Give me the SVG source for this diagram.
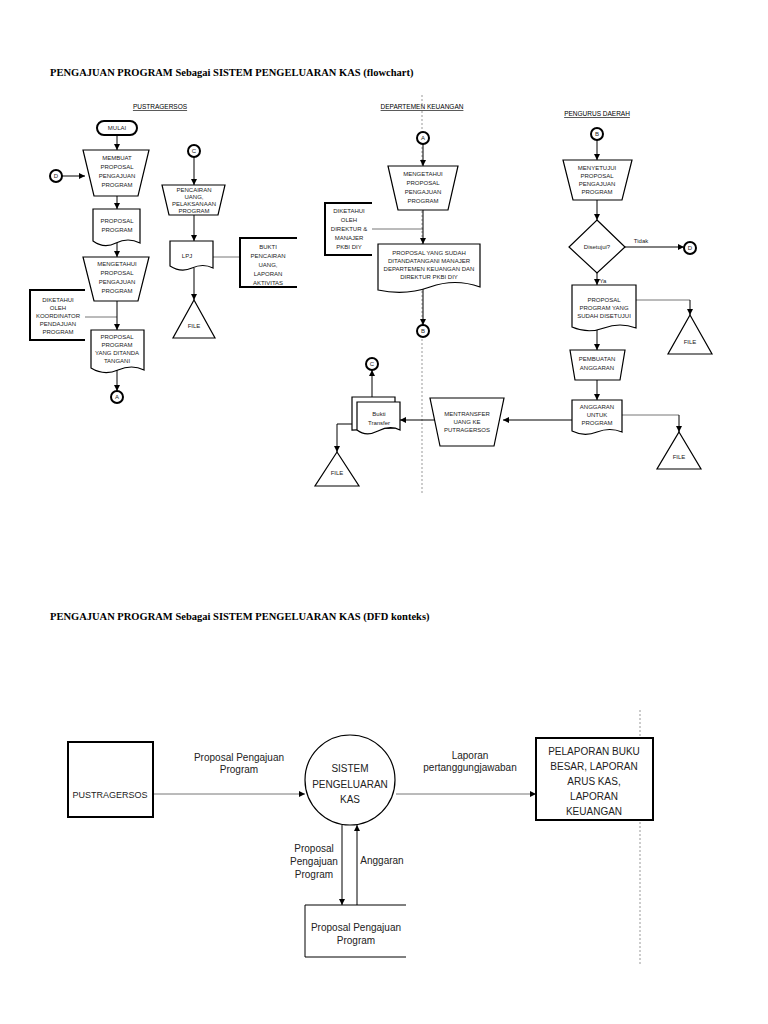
<svg xmlns="http://www.w3.org/2000/svg" width="768" height="1024" viewBox="0 0 768 1024">
<style>
.t{font-family:"Liberation Serif",serif;font-weight:bold;font-size:10.5px;fill:#000}
.s{font-family:"Liberation Sans",Arial,sans-serif;font-size:6px;fill:#222;text-anchor:middle}
.h{font-family:"Liberation Sans",Arial,sans-serif;font-size:6.5px;fill:#000;text-decoration:underline;text-anchor:middle}
.d{font-family:"Liberation Sans",Arial,sans-serif;font-size:10px;fill:#222;text-anchor:middle}
.sh{fill:#fff;stroke:#000;stroke-width:1.2}
.bx{fill:#fff;stroke:#000;stroke-width:2}
.ln{fill:none;stroke:#000;stroke-width:1}
.gl{fill:none;stroke:#777;stroke-width:1}
.dot{stroke:#999;stroke-width:1;stroke-dasharray:2 2;fill:none}
</style>
<defs>
<marker id="ar" markerWidth="7" markerHeight="7" refX="6" refY="3.5" orient="auto" markerUnits="userSpaceOnUse"><path d="M0,0.5 L6,3.5 L0,6.5 z" fill="#000"/></marker>
</defs>
<rect width="768" height="1024" fill="#fff"/>
<text class="t" x="50" y="76">PENGAJUAN PROGRAM Sebagai SISTEM PENGELUARAN KAS (flowchart)</text>
<text class="t" x="50" y="620">PENGAJUAN PROGRAM Sebagai SISTEM PENGELUARAN KAS (DFD konteks)</text>
<text class="h" x="160" y="109">PUSTRAGERSOS</text>
<text class="h" x="422" y="109">DEPARTEMEN KEUANGAN</text>
<text class="h" x="597" y="116">PENGURUS DAERAH</text>
<line class="dot" x1="422" y1="95" x2="422" y2="495"/>
<line class="dot" x1="640" y1="710" x2="640" y2="965"/>

<g id="connectors">
<path class="ln" d="M117,135 V150" marker-end="url(#ar)"/>
<path class="ln" d="M62,176 H85" marker-end="url(#ar)"/>
<path class="ln" d="M117,196 V209" marker-end="url(#ar)"/>
<path class="ln" d="M117,243 V257" marker-end="url(#ar)"/>
<path class="gl" d="M85,317 H117"/>
<path class="ln" d="M117,301 V330" marker-end="url(#ar)"/>
<path class="ln" d="M117,368 V391" marker-end="url(#ar)"/>
<path class="ln" d="M194,157 V185" marker-end="url(#ar)"/>
<path class="ln" d="M194,215 V241" marker-end="url(#ar)"/>
<path class="gl" d="M213,257 H240"/>
<path class="ln" d="M194,268 V300" marker-end="url(#ar)"/>
<path class="ln" d="M423,144 V166" marker-end="url(#ar)"/>
<path class="gl" d="M372,229 H423"/>
<path class="ln" d="M423,210 V244" marker-end="url(#ar)"/>
<path class="ln" d="M423,287 V325" marker-end="url(#ar)"/>
<path class="ln" d="M597,140 V160" marker-end="url(#ar)"/>
<path class="ln" d="M597,200 V220" marker-end="url(#ar)"/>
<path class="ln" d="M625,247 H684" marker-end="url(#ar)"/>
<path class="ln" d="M597,272 V285" marker-end="url(#ar)"/>
<path class="gl" d="M636,300 H690"/><path class="ln" d="M690,300 V315" marker-end="url(#ar)"/>
<path class="ln" d="M597,326 V350" marker-end="url(#ar)"/>
<path class="ln" d="M597,380 V400" marker-end="url(#ar)"/>
<path class="gl" d="M622,415 H679"/><path class="ln" d="M679,415 V432" marker-end="url(#ar)"/>
<path class="ln" d="M572,420 H503" marker-end="url(#ar)"/>
<path class="ln" d="M438,420 H400" marker-end="url(#ar)"/>
<path class="ln" d="M372,397 V370" marker-end="url(#ar)"/>
<path class="ln" d="M352,424 H337 V452" marker-end="url(#ar)"/>
<path class="gl" d="M153,794 H305" marker-end="url(#ar)"/>
<path class="gl" d="M396,794 H536" marker-end="url(#ar)"/>
<path class="ln" d="M342,825 V905" marker-end="url(#ar)"/>
<path class="ln" d="M357,905 V825" marker-end="url(#ar)"/>
</g>

<g id="mulai"><rect class="bx" x="97" y="121" width="40" height="14" rx="7"/><text class="s" x="117" y="130">MULAI</text></g>
<g id="conD1"><circle class="bx" cx="56" cy="176" r="6"/><text class="s" x="56" y="178">D</text></g>
<g id="membuat"><path class="sh" d="M83,150 H149 L138,196 H94 z"/><text class="s" x="117" y="160">MEMBUAT</text><text class="s" x="117" y="169">PROPOSAL</text><text class="s" x="117" y="178">PENGAJUAN</text><text class="s" x="117" y="187">PROGRAM</text></g>
<g id="proposal1"><path class="sh" d="M93,209 H140 V243 Q128,237 116,243 T93,241 z"/><text class="s" x="117" y="223">PROPOSAL</text><text class="s" x="117" y="232">PROGRAM</text></g>
<g id="mengetahui1"><path class="sh" d="M83,257 H149 L138,301 H94 z"/><text class="s" x="117" y="266">MENGETAHUI</text><text class="s" x="117" y="275">PROPOSAL</text><text class="s" x="117" y="284">PENGAJUAN</text><text class="s" x="117" y="293">PROGRAM</text></g>
<g id="diketahui1"><path class="bx" d="M85,290 H30 V340 H85"/><text class="s" x="58" y="302">DIKETAHUI</text><text class="s" x="58" y="310">OLEH</text><text class="s" x="58" y="318">KOORDINATOR</text><text class="s" x="58" y="326">PENDAJUAN</text><text class="s" x="58" y="334">PROGRAM</text></g>
<g id="proposalTtd"><path class="sh" d="M91,330 H144 V370 Q132,364 118,370 T91,368 z"/><text class="s" x="117" y="339">PROPOSAL</text><text class="s" x="117" y="347">PROGRAM</text><text class="s" x="117" y="355">YANG DITANDA</text><text class="s" x="117" y="363">TANGANI</text></g>
<g id="conA1"><circle class="bx" cx="117" cy="397" r="6"/><text class="s" x="117" y="399">A</text></g>
<g id="conC1"><circle class="bx" cx="194" cy="151" r="6"/><text class="s" x="194" y="153">C</text></g>
<g id="pencairan"><path class="sh" d="M162,185 H225 L218,215 H169 z"/><text class="s" x="194" y="192">PENCAIRAN</text><text class="s" x="194" y="199">UANG,</text><text class="s" x="194" y="206">PELAKSANAAN</text><text class="s" x="194" y="213">PROGRAM</text></g>
<g id="lpj"><path class="sh" d="M170,241 H213 V268 Q203,263 192,268 T170,266 z"/><text class="s" x="187" y="258">LPJ</text></g>
<g id="bukti1"><path class="bx" d="M297,238 H240 V287 H297"/><text class="s" x="268" y="249">BUKTI</text><text class="s" x="268" y="258">PENCAIRAN</text><text class="s" x="268" y="267">UANG,</text><text class="s" x="268" y="276">LAPORAN</text><text class="s" x="268" y="285">AKTIVITAS</text></g>
<g id="file1"><path class="sh" d="M194,300 L215,338 H173 z"/><text class="s" x="194" y="328">FILE</text></g>

<g id="conA2"><circle class="bx" cx="423" cy="138" r="6"/><text class="s" x="423" y="140">A</text></g>
<g id="mengetahui2"><path class="sh" d="M388,166 H458 L448,210 H398 z"/><text class="s" x="423" y="176">MENGETAHUI</text><text class="s" x="423" y="185">PROPOSAL</text><text class="s" x="423" y="194">PENGAJUAN</text><text class="s" x="423" y="203">PROGRAM</text></g>
<g id="diketahui2"><path class="bx" d="M372,203 H325 V255 H372"/><text class="s" x="349" y="213">DIKETAHUI</text><text class="s" x="349" y="222">OLEH</text><text class="s" x="349" y="231">DIREKTUR &amp;</text><text class="s" x="349" y="240">MANAJER</text><text class="s" x="349" y="249">PKBI DIY</text></g>
<g id="proposalSudah"><path class="sh" d="M378,244 H480 V287 Q455,278 430,287 T378,290 z"/><text class="s" x="429" y="255">PROPOSAL YANG SUDAH</text><text class="s" x="429" y="263">DITANDATANGANI MANAJER</text><text class="s" x="429" y="271">DEPARTEMEN KEUANGAN DAN</text><text class="s" x="429" y="279">DIREKTUR PKBI DIY</text></g>
<g id="conB1"><circle class="bx" cx="423" cy="331" r="6"/><text class="s" x="423" y="333">B</text></g>
<g id="conC2"><circle class="bx" cx="372" cy="364" r="6"/><text class="s" x="372" y="366">C</text></g>
<g id="buktiTransfer"><path class="sh" d="M352,397 H395 V428 L352,430 z"/><path class="sh" d="M357,402 H400 V430 Q390,425 378,431 T357,430 z"/><text class="s" x="379" y="416">Bukti</text><text class="s" x="379" y="425">Transfer</text></g>
<g id="file2"><path class="sh" d="M337,452 L359,486 H315 z"/><text class="s" x="337" y="475">FILE</text></g>
<g id="mentransfer"><path class="sh" d="M430,398 H504 L494,446 H440 z"/><text class="s" x="467" y="416">MENTRANSFER</text><text class="s" x="467" y="424">UANG KE</text><text class="s" x="467" y="432">PUTRAGERSOS</text></g>

<g id="conB2"><circle class="bx" cx="597" cy="134" r="6"/><text class="s" x="597" y="136">B</text></g>
<g id="menyetujui"><path class="sh" d="M563,160 H632 L622,200 H573 z"/><text class="s" x="597" y="170">MENYETUJUI</text><text class="s" x="597" y="178">PROPOSAL</text><text class="s" x="597" y="186">PENGAJUAN</text><text class="s" x="597" y="194">PROGRAM</text></g>
<g id="disetujui"><path class="sh" d="M597,220 L625,247 L597,273 L569,247 z"/><text class="s" x="597" y="249">Disetujui?</text></g>
<text class="s" x="641" y="243">Tidak</text>
<text class="s" x="603" y="283">Ya</text>
<g id="conD2"><circle class="bx" cx="690" cy="248" r="6"/><text class="s" x="690" y="250">D</text></g>
<g id="proposalSetuju"><path class="sh" d="M572,285 H636 V328 Q620,322 604,328 T572,327 z"/><text class="s" x="604" y="302">PROPOSAL</text><text class="s" x="604" y="310">PROGRAM YANG</text><text class="s" x="604" y="318">SUDAH DISETUJUI</text></g>
<g id="file3"><path class="sh" d="M690,315 L712,354 H668 z"/><text class="s" x="690" y="344">FILE</text></g>
<g id="pembuatan"><path class="sh" d="M570,350 H625 L620,380 H575 z"/><text class="s" x="597" y="361">PEMBUATAN</text><text class="s" x="597" y="370">ANGGARAN</text></g>
<g id="anggaran"><path class="sh" d="M572,400 H622 V432 Q610,427 597,432 T572,431 z"/><text class="s" x="597" y="409">ANGGARAN</text><text class="s" x="597" y="417">UNTUK</text><text class="s" x="597" y="425">PROGRAM</text></g>
<g id="file4"><path class="sh" d="M679,432 L701,469 H657 z"/><text class="s" x="679" y="459">FILE</text></g>

<text class="d" x="239" y="761">Proposal Pengajuan</text><text class="d" x="239" y="773">Program</text>
<text class="d" x="470" y="759">Laporan</text><text class="d" x="470" y="771">pertanggungjawaban</text>
<text class="d" x="314" y="852">Proposal</text><text class="d" x="314" y="865">Pengajuan</text><text class="d" x="314" y="878">Program</text>
<text class="d" x="382" y="864">Anggaran</text>
<g id="pustragersos"><rect class="bx" x="68" y="742" width="85" height="75"/><text class="d" x="110" y="798" style="font-size:9px">PUSTRAGERSOS</text></g>
<g id="sistem"><circle class="sh" cx="350" cy="780" r="45"/><text class="d" x="350" y="772">SISTEM</text><text class="d" x="350" y="788">PENGELUARAN</text><text class="d" x="350" y="803">KAS</text></g>
<g id="pelaporan"><rect class="bx" x="536" y="738" width="117" height="82"/><text class="d" x="594" y="755">PELAPORAN BUKU</text><text class="d" x="594" y="770">BESAR, LAPORAN</text><text class="d" x="594" y="785">ARUS KAS,</text><text class="d" x="594" y="800">LAPORAN</text><text class="d" x="594" y="815">KEUANGAN</text></g>
<g id="store"><path class="ln" stroke-width="1.3" d="M406,905 H305 V957 H406"/><text class="d" x="356" y="931">Proposal Pengajuan</text><text class="d" x="356" y="944">Program</text></g>
</svg>
